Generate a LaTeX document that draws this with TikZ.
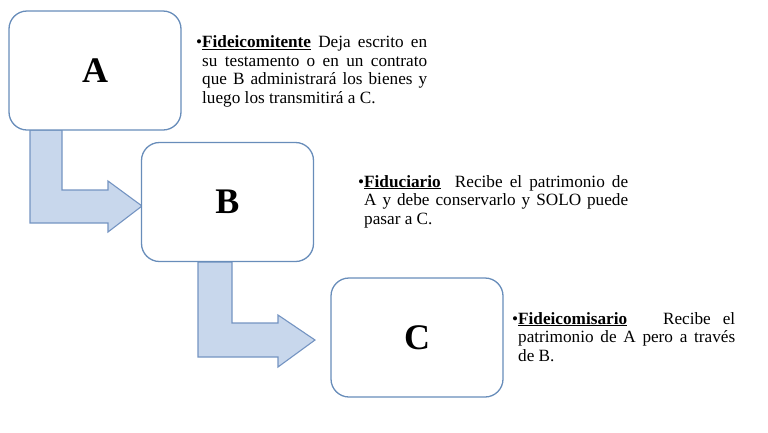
\documentclass[tikz,border=0pt]{standalone}
\usepackage{fontspec}
\setmainfont{Liberation Serif}
\definecolor{boxline}{RGB}{104,141,186}
\definecolor{arrowfill}{RGB}{200,215,236}
\definecolor{arrowline}{RGB}{116,148,194}
\tikzset{
  letterbox/.style={draw=boxline, line width=1.3pt, fill=white, rounded corners=18pt,
    minimum width=172pt, minimum height=119pt, inner sep=0pt,
    font=\fontsize{36}{36}\selectfont\bfseries},
  bentarrow/.style={draw=arrowline, line width=1.1pt, fill=arrowfill, line join=miter},
  desc/.style={anchor=base west, inner sep=0pt, align=justify,
    font=\fontsize{17.2}{18.7}\selectfont}
}
\begin{document}
\begin{tikzpicture}[x=1pt,y=-1pt]
\useasboundingbox (0,0) rectangle (768,432);
% bent arrows
\draw[bentarrow] (30,130) -- (62,130) -- (62,190) -- (108,190) -- (108,181) -- (142,206)
  -- (108,232) -- (108,223) -- (30,223) -- cycle;
\draw[bentarrow] (198,262) -- (232,262) -- (232,323) -- (278,323) -- (278,315) -- (315,340)
  -- (278,367) -- (278,357) -- (198,357) -- cycle;
% boxes
\node[letterbox] (A) at (95,70.5) {A};
\node[letterbox] (B) at (227.5,202) {B};
\node[letterbox] (C) at (417,337.5) {C};
% descriptions
\node[desc, text width=225pt] (tA) at (202,47.5)
  {\llap{\textbullet}\textbf{\underline{Fideicomitente}} Deja escrito en\linebreak
   su testamento o en un contrato\linebreak
   que B administrará los bienes y\linebreak
   luego los transmitirá a C.};
\node[desc, text width=264pt] (tB) at (364,187)
  {\llap{\textbullet}\textbf{\underline{Fiduciario}}\ \ Recibe el patrimonio de\linebreak
   A y debe conservarlo y SOLO puede\linebreak
   pasar a C.};
\node[desc, text width=217pt] (tC) at (518,324)
  {\llap{\textbullet}\textbf{\underline{Fideicomisario}}\ \ \ Recibe el\linebreak
   patrimonio de A pero a través\linebreak
   de B.};
\end{tikzpicture}
\end{document}
